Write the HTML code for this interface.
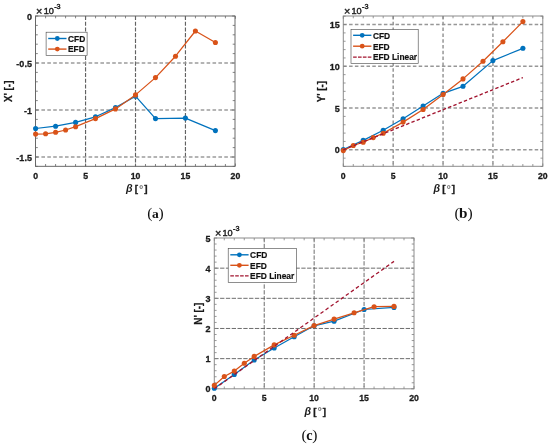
<!DOCTYPE html>
<html><head><meta charset="utf-8"><title>Figure</title>
<style>
html,body{margin:0;padding:0;background:#fff;}
svg{display:block}
.gd{stroke:#626262;stroke-width:1.15;stroke-dasharray:4.1 1.6;}
.gl{stroke:#9c9c9c;stroke-width:1.5;stroke-dasharray:3.6 2.3;}
.gl2{stroke:#979797;stroke-width:1.5;stroke-dasharray:3.5 2.3;}
.gd2{stroke:#5c5c5c;stroke-width:.9;stroke-dasharray:4.3 1.5;}
.gm{stroke:#808080;stroke-width:1.1;stroke-dasharray:4 1.8;}
.box{fill:none;stroke:#595959;stroke-width:.9;}
.box2{fill:none;stroke:#8c8c8c;stroke-width:1;}
.tk{fill:none;stroke:#666;stroke-width:.8;}
.tk2{fill:none;stroke:#808080;stroke-width:.8;}
.leg{fill:#fff;stroke:#444;stroke-width:.6;}
.tl{font-family:"Liberation Sans", sans-serif;font-weight:bold;font-size:9.6px;fill:#1a1a1a;stroke:#1a1a1a;stroke-width:.3;}
.xl{font-size:9.1px;}
.lb{font:bold 9.7px "Liberation Sans", sans-serif;fill:#111;stroke:#111;stroke-width:.2;}
.ex{font-family:"Liberation Sans", sans-serif;fill:#222;stroke:#222;stroke-width:.4;}
.al{font:bold 9.8px "Liberation Sans", sans-serif;fill:#1a1a1a;}
.dg{font-weight:normal;font-size:11px;fill:#777;stroke:#777;stroke-width:.3;}
.bk{stroke:#1a1a1a;stroke-width:.35;}
.yl{font-size:10.9px;stroke:#1a1a1a;stroke-width:.25;}
.cp{font:13.5px "Liberation Serif", serif;fill:#111;}
</style></head><body>
<svg width="550" height="446" viewBox="0 0 550 446">
<rect width="550" height="446" fill="#fff"/>
<line x1="85.55" y1="16" x2="85.55" y2="166.3" class="gd"/>
<line x1="135.50" y1="16" x2="135.50" y2="166.3" class="gd"/>
<line x1="185.45" y1="16" x2="185.45" y2="166.3" class="gd"/>
<line x1="35.5" y1="63.00" x2="235" y2="63.00" class="gl"/>
<line x1="35.5" y1="110.00" x2="235" y2="110.00" class="gl"/>
<line x1="35.5" y1="157.00" x2="235" y2="157.00" class="gl"/>
<rect x="35.5" y="16" width="199.5" height="150.3" class="box"/>
<path d="M35.60 166.3v-2.8M35.60 16v2.8M45.59 166.3v-2.3M45.59 16v2.3M55.58 166.3v-2.3M55.58 16v2.3M65.57 166.3v-2.3M65.57 16v2.3M75.56 166.3v-2.3M75.56 16v2.3M85.55 166.3v-2.8M85.55 16v2.8M95.54 166.3v-2.3M95.54 16v2.3M105.53 166.3v-2.3M105.53 16v2.3M115.52 166.3v-2.3M115.52 16v2.3M125.51 166.3v-2.3M125.51 16v2.3M135.50 166.3v-2.8M135.50 16v2.8M145.49 166.3v-2.3M145.49 16v2.3M155.48 166.3v-2.3M155.48 16v2.3M165.47 166.3v-2.3M165.47 16v2.3M175.46 166.3v-2.3M175.46 16v2.3M185.45 166.3v-2.8M185.45 16v2.8M195.44 166.3v-2.3M195.44 16v2.3M205.43 166.3v-2.3M205.43 16v2.3M215.42 166.3v-2.3M215.42 16v2.3M225.41 166.3v-2.3M225.41 16v2.3M235.40 166.3v-2.8M235.40 16v2.8M35.5 16.00h2.8M235 16.00h-2.8M35.5 25.40h2.3M235 25.40h-2.3M35.5 34.80h2.3M235 34.80h-2.3M35.5 44.20h2.3M235 44.20h-2.3M35.5 53.60h2.3M235 53.60h-2.3M35.5 63.00h2.8M235 63.00h-2.8M35.5 72.40h2.3M235 72.40h-2.3M35.5 81.80h2.3M235 81.80h-2.3M35.5 91.20h2.3M235 91.20h-2.3M35.5 100.60h2.3M235 100.60h-2.3M35.5 110.00h2.8M235 110.00h-2.8M35.5 119.40h2.3M235 119.40h-2.3M35.5 128.80h2.3M235 128.80h-2.3M35.5 138.20h2.3M235 138.20h-2.3M35.5 147.60h2.3M235 147.60h-2.3M35.5 157.00h2.8M235 157.00h-2.8M35.5 166.40h2.3M235 166.40h-2.3" class="tk"/>
<path d="M35.6 128.5 L55.6 126.2 L75.6 122.4 L95.5 116.8 L115.5 107.6 L135.5 96.2 L155.5 118.6 L185.4 118.1 L215.4 130.6" fill="none" stroke="#0072BD" stroke-width="1.25" stroke-linejoin="round"/>
<circle cx="35.6" cy="128.5" r="2.55" fill="#0072BD"/>
<circle cx="55.6" cy="126.2" r="2.55" fill="#0072BD"/>
<circle cx="75.6" cy="122.4" r="2.55" fill="#0072BD"/>
<circle cx="95.5" cy="116.8" r="2.55" fill="#0072BD"/>
<circle cx="115.5" cy="107.6" r="2.55" fill="#0072BD"/>
<circle cx="135.5" cy="96.2" r="2.55" fill="#0072BD"/>
<circle cx="155.5" cy="118.6" r="2.55" fill="#0072BD"/>
<circle cx="185.4" cy="118.1" r="2.55" fill="#0072BD"/>
<circle cx="215.4" cy="130.6" r="2.55" fill="#0072BD"/>
<path d="M35.6 134.1 L45.6 133.8 L55.6 132.3 L65.6 130.0 L75.6 126.7 L95.5 118.6 L115.5 108.9 L135.5 94.9 L155.5 77.6 L175.5 56.2 L195.4 31.0 L215.4 42.5" fill="none" stroke="#D95319" stroke-width="1.25" stroke-linejoin="round"/>
<circle cx="35.6" cy="134.1" r="2.55" fill="#D95319"/>
<circle cx="45.6" cy="133.8" r="2.55" fill="#D95319"/>
<circle cx="55.6" cy="132.3" r="2.55" fill="#D95319"/>
<circle cx="65.6" cy="130.0" r="2.55" fill="#D95319"/>
<circle cx="75.6" cy="126.7" r="2.55" fill="#D95319"/>
<circle cx="95.5" cy="118.6" r="2.55" fill="#D95319"/>
<circle cx="115.5" cy="108.9" r="2.55" fill="#D95319"/>
<circle cx="135.5" cy="94.9" r="2.55" fill="#D95319"/>
<circle cx="155.5" cy="77.6" r="2.55" fill="#D95319"/>
<circle cx="175.5" cy="56.2" r="2.55" fill="#D95319"/>
<circle cx="195.4" cy="31.0" r="2.55" fill="#D95319"/>
<circle cx="215.4" cy="42.5" r="2.55" fill="#D95319"/>
<rect x="46.1" y="32.2" width="41" height="23.2" class="leg"/>
<line x1="48.2" y1="38.5" x2="66.5" y2="38.5" stroke="#0072BD" stroke-width="1.4"/>
<circle cx="57.3" cy="38.5" r="2.4" fill="#0072BD"/>
<text transform="translate(68.0 41.80) scale(0.865 1)" class="lb">CFD</text>
<line x1="48.2" y1="49.1" x2="66.5" y2="49.1" stroke="#D95319" stroke-width="1.4"/>
<circle cx="57.3" cy="49.1" r="2.4" fill="#D95319"/>
<text transform="translate(68.0 52.40) scale(0.865 1)" class="lb">EFD</text>
<text transform="translate(35.6 179.2) scale(0.96 1)" class="tl xl" text-anchor="middle">0</text>
<text transform="translate(85.6 179.2) scale(0.96 1)" class="tl xl" text-anchor="middle">5</text>
<text transform="translate(135.5 179.2) scale(0.96 1)" class="tl xl" text-anchor="middle">10</text>
<text transform="translate(185.4 179.2) scale(0.96 1)" class="tl xl" text-anchor="middle">15</text>
<text transform="translate(235.4 179.2) scale(0.96 1)" class="tl xl" text-anchor="middle">20</text>
<text transform="translate(31.9 19.60) scale(0.94 1)" class="tl" text-anchor="end">0</text>
<text transform="translate(31.9 66.60) scale(0.94 1)" class="tl" text-anchor="end">-0.5</text>
<text transform="translate(31.9 113.60) scale(0.94 1)" class="tl" text-anchor="end">-1</text>
<text transform="translate(31.9 160.60) scale(0.94 1)" class="tl" text-anchor="end">-1.5</text>
<text transform="translate(36.1 15.1) scale(1.04 1)" class="ex" font-size="10.4">×</text>
<text transform="translate(43.7 13.8) scale(1.0 1)" class="ex" font-size="9.2">10</text>
<text transform="translate(54.2 9.1) scale(0.97 1)" class="ex" font-size="7.5">-3</text>
<text class="al"><tspan x="126.0" y="192.3" font-style="italic" font-size="10.6">β</tspan><tspan x="134.8" y="192.3" class="bk">[</tspan><tspan x="138.9" y="192.8" class="dg">°</tspan><tspan x="144.2" y="192.3" class="bk">]</tspan></text>
<text transform="translate(12.0 91.3) rotate(-90) scale(0.9 1)" class="al yl" text-anchor="middle">X' [-]</text>
<text class="cp"><tspan x="147.3" y="217.85" font-size="15.6">(</tspan><tspan x="152.1" y="217.8" font-weight="bold" font-size="13.5">a</tspan><tspan x="158.6" y="217.85" font-size="15.6">)</tspan></text>
<line x1="393.18" y1="16" x2="393.18" y2="166.3" class="gl2"/>
<line x1="443.05" y1="16" x2="443.05" y2="166.3" class="gl2"/>
<line x1="492.93" y1="16" x2="492.93" y2="166.3" class="gl2"/>
<line x1="343.3" y1="149.80" x2="542.8" y2="149.80" class="gl2"/>
<line x1="343.3" y1="108.05" x2="542.8" y2="108.05" class="gl2"/>
<line x1="343.3" y1="66.30" x2="542.8" y2="66.30" class="gl2"/>
<line x1="343.3" y1="24.55" x2="542.8" y2="24.55" class="gl2"/>
<rect x="343.3" y="16" width="199.49999999999994" height="150.3" class="box2"/>
<path d="M343.30 166.3v-2.8M343.30 16v2.8M353.28 166.3v-2.3M353.28 16v2.3M363.25 166.3v-2.3M363.25 16v2.3M373.23 166.3v-2.3M373.23 16v2.3M383.20 166.3v-2.3M383.20 16v2.3M393.18 166.3v-2.8M393.18 16v2.8M403.15 166.3v-2.3M403.15 16v2.3M413.12 166.3v-2.3M413.12 16v2.3M423.10 166.3v-2.3M423.10 16v2.3M433.07 166.3v-2.3M433.07 16v2.3M443.05 166.3v-2.8M443.05 16v2.8M453.02 166.3v-2.3M453.02 16v2.3M463.00 166.3v-2.3M463.00 16v2.3M472.98 166.3v-2.3M472.98 16v2.3M482.95 166.3v-2.3M482.95 16v2.3M492.93 166.3v-2.8M492.93 16v2.8M502.90 166.3v-2.3M502.90 16v2.3M512.88 166.3v-2.3M512.88 16v2.3M522.85 166.3v-2.3M522.85 16v2.3M532.83 166.3v-2.3M532.83 16v2.3M542.80 166.3v-2.8M542.80 16v2.8M343.3 166.50h2.3M542.8 166.50h-2.3M343.3 158.15h2.3M542.8 158.15h-2.3M343.3 149.80h2.8M542.8 149.80h-2.8M343.3 141.45h2.3M542.8 141.45h-2.3M343.3 133.10h2.3M542.8 133.10h-2.3M343.3 124.75h2.3M542.8 124.75h-2.3M343.3 116.40h2.3M542.8 116.40h-2.3M343.3 108.05h2.8M542.8 108.05h-2.8M343.3 99.70h2.3M542.8 99.70h-2.3M343.3 91.35h2.3M542.8 91.35h-2.3M343.3 83.00h2.3M542.8 83.00h-2.3M343.3 74.65h2.3M542.8 74.65h-2.3M343.3 66.30h2.8M542.8 66.30h-2.8M343.3 57.95h2.3M542.8 57.95h-2.3M343.3 49.60h2.3M542.8 49.60h-2.3M343.3 41.25h2.3M542.8 41.25h-2.3M343.3 32.90h2.3M542.8 32.90h-2.3M343.3 24.55h2.8M542.8 24.55h-2.8M343.3 16.20h2.3M542.8 16.20h-2.3" class="tk2"/>
<path d="M343.3 149.5 L363.2 140.4 L383.2 130.2 L403.1 118.8 L423.1 106.0 L443.1 93.3 L463.0 86.3 L492.9 60.6 L522.9 48.3" fill="none" stroke="#0072BD" stroke-width="1.25" stroke-linejoin="round"/>
<circle cx="343.3" cy="149.5" r="2.55" fill="#0072BD"/>
<circle cx="363.2" cy="140.4" r="2.55" fill="#0072BD"/>
<circle cx="383.2" cy="130.2" r="2.55" fill="#0072BD"/>
<circle cx="403.1" cy="118.8" r="2.55" fill="#0072BD"/>
<circle cx="423.1" cy="106.0" r="2.55" fill="#0072BD"/>
<circle cx="443.1" cy="93.3" r="2.55" fill="#0072BD"/>
<circle cx="463.0" cy="86.3" r="2.55" fill="#0072BD"/>
<circle cx="492.9" cy="60.6" r="2.55" fill="#0072BD"/>
<circle cx="522.9" cy="48.3" r="2.55" fill="#0072BD"/>
<path d="M343.3 150.6 L353.3 145.5 L363.2 142.2 L373.2 137.6 L383.2 133.3 L403.1 122.1 L423.1 109.5 L443.1 94.5 L463.0 78.9 L483.0 61.3 L502.9 41.7 L522.9 21.6" fill="none" stroke="#D95319" stroke-width="1.25" stroke-linejoin="round"/>
<circle cx="343.3" cy="150.6" r="2.55" fill="#D95319"/>
<circle cx="353.3" cy="145.5" r="2.55" fill="#D95319"/>
<circle cx="363.2" cy="142.2" r="2.55" fill="#D95319"/>
<circle cx="373.2" cy="137.6" r="2.55" fill="#D95319"/>
<circle cx="383.2" cy="133.3" r="2.55" fill="#D95319"/>
<circle cx="403.1" cy="122.1" r="2.55" fill="#D95319"/>
<circle cx="423.1" cy="109.5" r="2.55" fill="#D95319"/>
<circle cx="443.1" cy="94.5" r="2.55" fill="#D95319"/>
<circle cx="463.0" cy="78.9" r="2.55" fill="#D95319"/>
<circle cx="483.0" cy="61.3" r="2.55" fill="#D95319"/>
<circle cx="502.9" cy="41.7" r="2.55" fill="#D95319"/>
<circle cx="522.9" cy="21.6" r="2.55" fill="#D95319"/>
<line x1="343.3" y1="149.8" x2="522.9" y2="77.6" stroke="#A2142F" stroke-width="1.35" stroke-dasharray="3.4 2.25"/>
<rect x="351" y="29.5" width="67.2" height="33.8" class="leg"/>
<line x1="353.1" y1="35.3" x2="371.4" y2="35.3" stroke="#0072BD" stroke-width="1.4"/>
<circle cx="362.2" cy="35.3" r="2.4" fill="#0072BD"/>
<text transform="translate(372.9 38.60) scale(0.865 1)" class="lb">CFD</text>
<line x1="353.1" y1="46.199999999999996" x2="371.4" y2="46.199999999999996" stroke="#D95319" stroke-width="1.4"/>
<circle cx="362.2" cy="46.199999999999996" r="2.4" fill="#D95319"/>
<text transform="translate(372.9 49.50) scale(0.865 1)" class="lb">EFD</text>
<line x1="353.1" y1="57.099999999999994" x2="371.4" y2="57.099999999999994" stroke="#A2142F" stroke-width="1.3" stroke-dasharray="3.6 1.3"/>
<text transform="translate(372.9 60.40) scale(0.865 1)" class="lb">EFD Linear</text>
<text transform="translate(343.3 179.4) scale(0.96 1)" class="tl xl" text-anchor="middle">0</text>
<text transform="translate(393.2 179.4) scale(0.96 1)" class="tl xl" text-anchor="middle">5</text>
<text transform="translate(443.1 179.4) scale(0.96 1)" class="tl xl" text-anchor="middle">10</text>
<text transform="translate(492.9 179.4) scale(0.96 1)" class="tl xl" text-anchor="middle">15</text>
<text transform="translate(542.8 179.4) scale(0.96 1)" class="tl xl" text-anchor="middle">20</text>
<text transform="translate(339.7 153.40) scale(0.94 1)" class="tl" text-anchor="end">0</text>
<text transform="translate(339.7 111.65) scale(0.94 1)" class="tl" text-anchor="end">5</text>
<text transform="translate(339.7 69.90) scale(0.94 1)" class="tl" text-anchor="end">10</text>
<text transform="translate(339.7 28.15) scale(0.94 1)" class="tl" text-anchor="end">15</text>
<text transform="translate(343.9 15.1) scale(1.04 1)" class="ex" font-size="10.4">×</text>
<text transform="translate(351.5 13.8) scale(1.0 1)" class="ex" font-size="9.2">10</text>
<text transform="translate(362.0 9.1) scale(0.97 1)" class="ex" font-size="7.5">-3</text>
<text class="al"><tspan x="433.5" y="192.3" font-style="italic" font-size="10.6">β</tspan><tspan x="442.3" y="192.3" class="bk">[</tspan><tspan x="446.4" y="192.8" class="dg">°</tspan><tspan x="451.7" y="192.3" class="bk">]</tspan></text>
<text transform="translate(325.2 91.6) rotate(-90) scale(0.9 1)" class="al yl" text-anchor="middle">Y' [-]</text>
<text class="cp"><tspan x="454.4" y="218.25" font-size="15.6">(</tspan><tspan x="459.1" y="218.2" font-weight="bold" font-size="15.2">b</tspan><tspan x="467.5" y="218.25" font-size="15.6">)</tspan></text>
<line x1="264.23" y1="238" x2="264.23" y2="388.8" class="gd2"/>
<line x1="314.15" y1="238" x2="314.15" y2="388.8" class="gd2"/>
<line x1="364.07" y1="238" x2="364.07" y2="388.8" class="gd2"/>
<line x1="214.3" y1="358.64" x2="414" y2="358.64" class="gd2"/>
<line x1="214.3" y1="328.48" x2="414" y2="328.48" class="gd2"/>
<line x1="214.3" y1="298.32" x2="414" y2="298.32" class="gd2"/>
<line x1="214.3" y1="268.16" x2="414" y2="268.16" class="gd2"/>
<rect x="214.3" y="238" width="199.7" height="150.8" class="box2"/>
<path d="M214.30 388.8v-2.8M214.30 238v2.8M224.29 388.8v-2.3M224.29 238v2.3M234.27 388.8v-2.3M234.27 238v2.3M244.25 388.8v-2.3M244.25 238v2.3M254.24 388.8v-2.3M254.24 238v2.3M264.23 388.8v-2.8M264.23 238v2.8M274.21 388.8v-2.3M274.21 238v2.3M284.19 388.8v-2.3M284.19 238v2.3M294.18 388.8v-2.3M294.18 238v2.3M304.17 388.8v-2.3M304.17 238v2.3M314.15 388.8v-2.8M314.15 238v2.8M324.13 388.8v-2.3M324.13 238v2.3M334.12 388.8v-2.3M334.12 238v2.3M344.11 388.8v-2.3M344.11 238v2.3M354.09 388.8v-2.3M354.09 238v2.3M364.07 388.8v-2.8M364.07 238v2.8M374.06 388.8v-2.3M374.06 238v2.3M384.05 388.8v-2.3M384.05 238v2.3M394.03 388.8v-2.3M394.03 238v2.3M404.01 388.8v-2.3M404.01 238v2.3M414.00 388.8v-2.8M414.00 238v2.8M214.3 388.80h2.8M414 388.80h-2.8M214.3 382.77h2.3M414 382.77h-2.3M214.3 376.74h2.3M414 376.74h-2.3M214.3 370.70h2.3M414 370.70h-2.3M214.3 364.67h2.3M414 364.67h-2.3M214.3 358.64h2.8M414 358.64h-2.8M214.3 352.61h2.3M414 352.61h-2.3M214.3 346.58h2.3M414 346.58h-2.3M214.3 340.54h2.3M414 340.54h-2.3M214.3 334.51h2.3M414 334.51h-2.3M214.3 328.48h2.8M414 328.48h-2.8M214.3 322.45h2.3M414 322.45h-2.3M214.3 316.42h2.3M414 316.42h-2.3M214.3 310.38h2.3M414 310.38h-2.3M214.3 304.35h2.3M414 304.35h-2.3M214.3 298.32h2.8M414 298.32h-2.8M214.3 292.29h2.3M414 292.29h-2.3M214.3 286.26h2.3M414 286.26h-2.3M214.3 280.22h2.3M414 280.22h-2.3M214.3 274.19h2.3M414 274.19h-2.3M214.3 268.16h2.8M414 268.16h-2.8M214.3 262.13h2.3M414 262.13h-2.3M214.3 256.10h2.3M414 256.10h-2.3M214.3 250.06h2.3M414 250.06h-2.3M214.3 244.03h2.3M414 244.03h-2.3M214.3 238.00h2.8M414 238.00h-2.8" class="tk2"/>
<path d="M214.3 388.2 L234.3 374.5 L254.2 360.0 L274.2 348.0 L294.2 336.8 L314.1 325.8 L334.1 321.2 L364.1 309.5 L394.0 307.4" fill="none" stroke="#0072BD" stroke-width="1.25" stroke-linejoin="round"/>
<circle cx="214.3" cy="388.2" r="2.55" fill="#0072BD"/>
<circle cx="234.3" cy="374.5" r="2.55" fill="#0072BD"/>
<circle cx="254.2" cy="360.0" r="2.55" fill="#0072BD"/>
<circle cx="274.2" cy="348.0" r="2.55" fill="#0072BD"/>
<circle cx="294.2" cy="336.8" r="2.55" fill="#0072BD"/>
<circle cx="314.1" cy="325.8" r="2.55" fill="#0072BD"/>
<circle cx="334.1" cy="321.2" r="2.55" fill="#0072BD"/>
<circle cx="364.1" cy="309.5" r="2.55" fill="#0072BD"/>
<circle cx="394.0" cy="307.4" r="2.55" fill="#0072BD"/>
<path d="M214.3 385.4 L224.3 376.5 L234.3 371.1 L244.3 363.3 L254.2 356.4 L274.2 344.9 L294.2 335.3 L314.1 325.6 L334.1 319.1 L354.1 312.8 L374.1 306.7 L394.0 306.4" fill="none" stroke="#D95319" stroke-width="1.25" stroke-linejoin="round"/>
<circle cx="214.3" cy="385.4" r="2.55" fill="#D95319"/>
<circle cx="224.3" cy="376.5" r="2.55" fill="#D95319"/>
<circle cx="234.3" cy="371.1" r="2.55" fill="#D95319"/>
<circle cx="244.3" cy="363.3" r="2.55" fill="#D95319"/>
<circle cx="254.2" cy="356.4" r="2.55" fill="#D95319"/>
<circle cx="274.2" cy="344.9" r="2.55" fill="#D95319"/>
<circle cx="294.2" cy="335.3" r="2.55" fill="#D95319"/>
<circle cx="314.1" cy="325.6" r="2.55" fill="#D95319"/>
<circle cx="334.1" cy="319.1" r="2.55" fill="#D95319"/>
<circle cx="354.1" cy="312.8" r="2.55" fill="#D95319"/>
<circle cx="374.1" cy="306.7" r="2.55" fill="#D95319"/>
<circle cx="394.0" cy="306.4" r="2.55" fill="#D95319"/>
<line x1="214.3" y1="388.8" x2="394.0" y2="261.4" stroke="#A2142F" stroke-width="1.3" stroke-dasharray="3.6 2.6"/>
<rect x="228.2" y="248.3" width="68.2" height="34.3" class="leg"/>
<line x1="230.3" y1="254.8" x2="248.6" y2="254.8" stroke="#0072BD" stroke-width="1.4"/>
<circle cx="239.4" cy="254.8" r="2.4" fill="#0072BD"/>
<text transform="translate(250.1 258.10) scale(0.865 1)" class="lb">CFD</text>
<line x1="230.3" y1="265.3" x2="248.6" y2="265.3" stroke="#D95319" stroke-width="1.4"/>
<circle cx="239.4" cy="265.3" r="2.4" fill="#D95319"/>
<text transform="translate(250.1 268.60) scale(0.865 1)" class="lb">EFD</text>
<line x1="230.3" y1="275.8" x2="248.6" y2="275.8" stroke="#A2142F" stroke-width="1.3" stroke-dasharray="3.6 1.3"/>
<text transform="translate(250.1 279.10) scale(0.865 1)" class="lb">EFD Linear</text>
<text transform="translate(214.3 401.3) scale(0.96 1)" class="tl xl" text-anchor="middle">0</text>
<text transform="translate(264.2 401.3) scale(0.96 1)" class="tl xl" text-anchor="middle">5</text>
<text transform="translate(314.1 401.3) scale(0.96 1)" class="tl xl" text-anchor="middle">10</text>
<text transform="translate(364.1 401.3) scale(0.96 1)" class="tl xl" text-anchor="middle">15</text>
<text transform="translate(414.0 401.3) scale(0.96 1)" class="tl xl" text-anchor="middle">20</text>
<text transform="translate(210.6 392.40) scale(0.94 1)" class="tl" text-anchor="end">0</text>
<text transform="translate(210.6 362.24) scale(0.94 1)" class="tl" text-anchor="end">1</text>
<text transform="translate(210.6 332.08) scale(0.94 1)" class="tl" text-anchor="end">2</text>
<text transform="translate(210.6 301.92) scale(0.94 1)" class="tl" text-anchor="end">3</text>
<text transform="translate(210.6 271.76) scale(0.94 1)" class="tl" text-anchor="end">4</text>
<text transform="translate(210.6 241.60) scale(0.94 1)" class="tl" text-anchor="end">5</text>
<text transform="translate(214.9 237.1) scale(1.04 1)" class="ex" font-size="10.4">×</text>
<text transform="translate(222.5 235.8) scale(1.0 1)" class="ex" font-size="9.2">10</text>
<text transform="translate(233.0 231.1) scale(0.97 1)" class="ex" font-size="7.5">-3</text>
<text class="al"><tspan x="304.5" y="414.8" font-style="italic" font-size="10.6">β</tspan><tspan x="313.3" y="414.8" class="bk">[</tspan><tspan x="317.4" y="415.3" class="dg">°</tspan><tspan x="322.7" y="414.8" class="bk">]</tspan></text>
<text transform="translate(202.1 313.7) rotate(-90) scale(0.9 1)" class="al yl" text-anchor="middle">N' [-]</text>
<text class="cp"><tspan x="301.6" y="440.45" font-size="15.6">(</tspan><tspan x="306.3" y="440.4" font-weight="bold" font-size="14.2">c</tspan><tspan x="312.2" y="440.45" font-size="15.6">)</tspan></text>
</svg>
</body></html>
